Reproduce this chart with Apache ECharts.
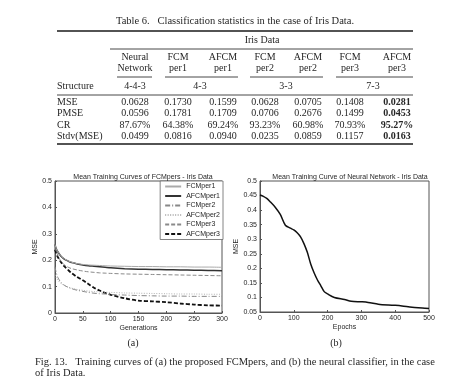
<!DOCTYPE html>
<html><head><meta charset="utf-8">
<script src="https://cdn.jsdelivr.net/npm/echarts@6/dist/echarts.min.js"></script>
<style>html,body{margin:0;padding:0;background:#fff}#c{width:474px;height:384px}</style>
</head><body><div id="c"></div>
<script>
// ---------- Table data ----------
const tableTitle = 'Table 6.   Classification statistics in the case of Iris Data.';
const groupTitle = 'Iris Data';
const colHeads = [['Neural','Network'],['FCM','per1'],['AFCM','per1'],['FCM','per2'],['AFCM','per2'],['FCM','per3'],['AFCM','per3']];
const structureLabel = 'Structure';
const structures = ['4-4-3','4-3','3-3','7-3'];
const rowLabels = ['MSE','PMSE','CR','Stdv(MSE)'];
const mseRow  = ['0.0628','0.1730','0.1599','0.0628','0.0705','0.1408','0.0281'];
const pmseRow = ['0.0596','0.1781','0.1709','0.0706','0.2676','0.1499','0.0453'];
const crRow   = ['87.67%','64.38%','69.24%','93.23%','60.98%','70.93%','95.27%'];
const stdvRow = ['0.0499','0.0816','0.0940','0.0235','0.0859','0.1157','0.0163'];

// ---------- Chart (a) data ----------
const generations = [0,2,5,10,15,20,25,30,40,50,60,70,80,90,100,125,150,175,200,225,250,275,300];
const fcmPer1  = [0.260,0.245,0.232,0.218,0.208,0.201,0.196,0.192,0.187,0.184,0.182,0.181,0.180,0.179,0.178,0.177,0.176,0.176,0.175,0.175,0.174,0.174,0.173];
const afcmPer1 = [0.260,0.245,0.232,0.217,0.207,0.200,0.195,0.191,0.186,0.182,0.179,0.177,0.175,0.173,0.171,0.168,0.166,0.165,0.164,0.163,0.162,0.161,0.160];
const fcmPer2  = [0.175,0.155,0.135,0.118,0.108,0.101,0.096,0.092,0.086,0.082,0.078,0.075,0.073,0.072,0.070,0.068,0.066,0.065,0.064,0.064,0.063,0.063,0.063];
const afcmPer2 = [0.145,0.135,0.125,0.113,0.106,0.101,0.097,0.094,0.089,0.086,0.083,0.081,0.080,0.079,0.078,0.076,0.075,0.074,0.073,0.072,0.072,0.071,0.071];
const fcmPer3  = [0.250,0.235,0.218,0.198,0.186,0.178,0.172,0.168,0.163,0.159,0.156,0.154,0.152,0.151,0.150,0.148,0.147,0.146,0.145,0.144,0.143,0.142,0.141];
const afcmPer3 = [0.240,0.228,0.212,0.195,0.181,0.170,0.160,0.151,0.136,0.124,0.110,0.096,0.085,0.076,0.069,0.056,0.047,0.044,0.041,0.036,0.032,0.029,0.028];
const seriesNamesA = ['FCMper1','AFCMper1','FCMper2','AFCMper2','FCMper3','AFCMper3'];

// ---------- Chart (b) data ----------
const epochs = [0,10,20,30,45,60,75,90,100,110,120,130,140,150,160,170,180,190,200,220,250,270,300,320,350,380,400,420,450,480,500];
const nnMse  = [0.452,0.447,0.440,0.429,0.410,0.385,0.348,0.338,0.332,0.322,0.308,0.285,0.255,0.215,0.185,0.160,0.140,0.120,0.112,0.100,0.093,0.087,0.085,0.083,0.077,0.074,0.073,0.071,0.066,0.064,0.062];

// ---------- Texts ----------
const titleA = 'Mean Training Curves of FCMpers - Iris Data';
const titleB = 'Mean Training Curve of Neural Network - Iris Data';
const xNameA = 'Generations', xNameB = 'Epochs', yName = 'MSE';
const subA = '(a)', subB = '(b)';
const caption1 = 'Fig. 13.   Training curves of (a) the proposed FCMpers, and (b) the neural classifier, in the case';
const caption2 = 'of Iris Data.';

const SERIF = '"Liberation Serif","DejaVu Serif",serif';
const SANS = '"Liberation Sans",Arial,sans-serif';
const TXT = '#262626';

function t(text, x, y, size, align, bold, family) {
  return {type:'text', x:x, y:y, silent:true, style:{text:text, x:0, y:0, fill:TXT,
    font:(bold?'bold ':'')+size+'px '+(family||SERIF), textAlign:align||'center', textVerticalAlign:'middle'}};
}
function rule(x1,x2,y,w){
  return {type:'line', silent:true, shape:{x1:x1,y1:y,x2:x2,y2:y}, style:{stroke:'#1a1a1a', lineWidth:w}};
}

const colX = [135,178,223,265,308,350,397];
const structX = [135,200,286,373];
const rowY = [102,113,125,136];
const rows = [mseRow,pmseRow,crRow,stdvRow];

const g = [];
g.push(t(tableTitle, 235, 21, 10.5, 'center'));
g.push(rule(57,413,31,1.6));
g.push(t(groupTitle, 262, 40, 10));
g.push(rule(110,413,49,0.8));
colHeads.forEach((h,i)=>{ g.push(t(h[0], colX[i], 57, 10)); g.push(t(h[1], colX[i], 68, 10)); });
[[117,152],[165,238],[250,323],[336,413]].forEach(r=>g.push(rule(r[0],r[1],77,0.8)));
g.push(t(structureLabel, 57, 86, 10, 'left'));
structures.forEach((s,i)=>g.push(t(s, structX[i], 86, 10)));
g.push(rule(57,413,95,0.8));
rowLabels.forEach((l,r)=>{
  g.push(t(l, 57, rowY[r], 10, 'left'));
  rows[r].forEach((v,i)=>g.push(t(v, colX[i], rowY[r], 10, 'center', i===6)));
});
g.push(rule(57,413,144,1.6));
g.push(t(subA, 133, 343, 10));
g.push(t(subB, 336, 343, 10));
g.push(t(caption1, 35, 362, 10.5, 'left'));
g.push(t(caption2, 35, 373, 10.5, 'left'));

const axLabel = {fontSize:7, color:TXT, fontFamily:SANS, margin:3};
const axLine = {show:true, lineStyle:{color:'#555', width:1}};
const axTick = {show:true, inside:true, length:2, lineStyle:{color:'#555'}};

function pairs(xs, ys){ return xs.map((x,i)=>[x, ys[i]]); }

const styleA = [
  {color:'#aaaaaa', width:1, type:'solid'},
  {color:'#333333', width:1.5, type:'solid'},
  {color:'#888888', width:1, type:[5,2,1,2]},
  {color:'#b5b5b5', width:1, type:[1,1.5]},
  {color:'#8a8a8a', width:1, type:[4,2]},
  {color:'#111111', width:1.8, type:[4,2]}
];
const dataA = [fcmPer1, afcmPer1, fcmPer2, afcmPer2, fcmPer3, afcmPer3];

const seriesA = seriesNamesA.map((n,i)=>({
  name:n, type:'line', xAxisIndex:0, yAxisIndex:0, symbol:'none', smooth:0.3,
  data:pairs(generations, dataA[i]), lineStyle:styleA[i], itemStyle:{color:styleA[i].color},
  z: 10 - i
}));

const option = {
  animation:false,
  title:[
    {text:titleA, left:138, top:169, textAlign:'center', textStyle:{fontSize:7, fontWeight:'normal', color:TXT, fontFamily:SANS}},
    {text:titleB, left:345, top:169, textAlign:'center', textStyle:{fontSize:7, fontWeight:'normal', color:TXT, fontFamily:SANS}}
  ],
  legend:{
    data:seriesNamesA, orient:'vertical', right:251, top:181, padding:[2,3,2,4],
    itemWidth:16, itemHeight:6, itemGap:2.5, backgroundColor:'#fff', borderColor:'#666', borderWidth:0.8,
    itemStyle:{color:'rgba(0,0,0,0)', borderColor:'rgba(0,0,0,0)', borderWidth:0, opacity:0},
    textStyle:{fontSize:7, color:TXT, fontFamily:SANS}, selectedMode:false
  },
  grid:[
    {left:55, top:181, width:167, height:132, show:true, borderColor:'#555', borderWidth:1, backgroundColor:'#fff'},
    {left:260, top:181, width:169, height:131, show:true, borderColor:'#555', borderWidth:1, backgroundColor:'#fff'}
  ],
  xAxis:[
    {type:'value', gridIndex:0, min:0, max:300, interval:50, name:xNameA, nameLocation:'middle', nameGap:12,
     nameTextStyle:{fontSize:7, color:TXT, fontFamily:SANS}, axisLabel:axLabel, axisLine:axLine, axisTick:axTick, splitLine:{show:false}},
    {type:'value', gridIndex:1, min:0, max:500, interval:100, name:xNameB, nameLocation:'middle', nameGap:12,
     nameTextStyle:{fontSize:7, color:TXT, fontFamily:SANS}, axisLabel:axLabel, axisLine:axLine, axisTick:axTick, splitLine:{show:false}}
  ],
  yAxis:[
    {type:'value', gridIndex:0, min:0, max:0.5, interval:0.1, name:yName, nameLocation:'middle', nameGap:15,
     nameTextStyle:{fontSize:7, color:TXT, fontFamily:SANS}, axisLabel:axLabel, axisLine:axLine, axisTick:axTick, splitLine:{show:false}},
    {type:'value', gridIndex:1, min:0.05, max:0.5, interval:0.05, name:yName, nameLocation:'middle', nameGap:20,
     nameTextStyle:{fontSize:7, color:TXT, fontFamily:SANS}, axisLabel:axLabel, axisLine:axLine, axisTick:axTick, splitLine:{show:false}}
  ],
  series: seriesA.concat([{
    name:'Neural Network', type:'line', xAxisIndex:1, yAxisIndex:1, symbol:'none', smooth:0.3,
    data:pairs(epochs, nnMse), lineStyle:{color:'#111', width:1.5}, itemStyle:{color:'#111'}
  }]),
  graphic:g
};
const chart = echarts.init(document.getElementById('c'), null, {renderer:'canvas'});
chart.setOption(option);
</script></body></html>
